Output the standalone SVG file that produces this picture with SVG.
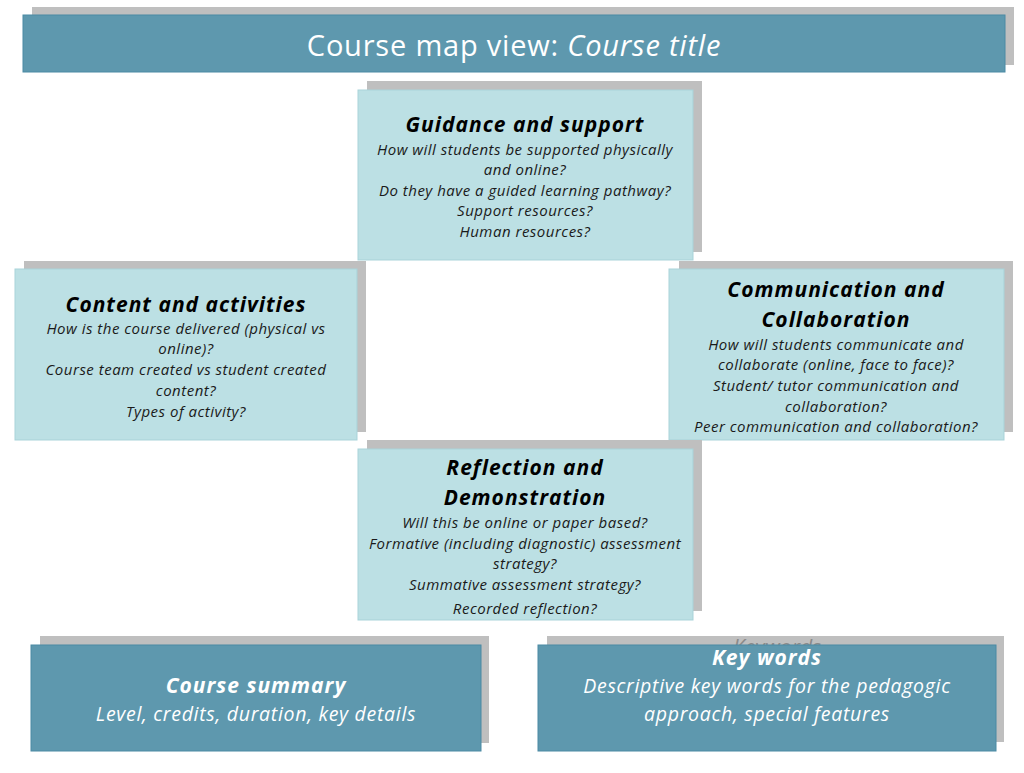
<svg xmlns="http://www.w3.org/2000/svg" width="1024" height="773" viewBox="0 0 1024 773">
<defs>
<style>
.shadow{fill:#bfbfbf}
.dark{fill:#5e98ae;stroke:#4b8aa4;stroke-width:1}
.light{fill:#bce0e4;stroke:#a9d3d9;stroke-width:1}
text{font-family:"Open Sans",Lato,"Liberation Sans",sans-serif;text-anchor:middle}
.t{font-size:21px;font-weight:bold;font-style:italic;fill:#000;letter-spacing:1px}
.b{font-size:15px;font-style:italic;fill:#1a1a1a;letter-spacing:0.5px}
.wt{font-size:21px;font-weight:bold;font-style:italic;fill:#fff;letter-spacing:1px}
.wb{font-size:19.5px;font-style:italic;fill:#fff;letter-spacing:0.7px}
</style>
<clipPath id="kwclip"><rect x="547" y="636" width="457" height="9"/></clipPath>
</defs>
<rect width="1024" height="773" fill="#fff"/>
<g id="title">
<rect class="shadow" x="32" y="7" width="982" height="58"/>
<rect class="dark" x="23" y="15" width="982" height="57"/>
<text x="514" y="56" style="font-size:29px;fill:#fff;letter-spacing:0.8px">Course map view: <tspan font-style="italic">Course title</tspan></text>
</g>
<g id="guidance">
<rect class="shadow" x="367" y="81" width="335" height="171"/>
<rect class="light" x="358" y="90" width="335" height="170"/>
<text class="t" x="525" y="132">Guidance and support</text>
<text class="b" x="525" y="155">How will students be supported physically</text>
<text class="b" x="525" y="175">and online?</text>
<text class="b" x="525" y="196">Do they have a guided learning pathway?</text>
<text class="b" x="525" y="216">Support resources?</text>
<text class="b" x="525" y="237">Human resources?</text>
</g>
<g id="content">
<rect class="shadow" x="24" y="261" width="342" height="171"/>
<rect class="light" x="15" y="269" width="342" height="171"/>
<text class="t" x="186" y="312">Content and activities</text>
<text class="b" x="186" y="334">How is the course delivered (physical vs</text>
<text class="b" x="186" y="354">online)?</text>
<text class="b" x="186" y="375">Course team created vs student created</text>
<text class="b" x="186" y="396">content?</text>
<text class="b" x="186" y="417">Types of activity?</text>
</g>
<g id="communication">
<rect class="shadow" x="679" y="261" width="334" height="171"/>
<rect class="light" x="669" y="269" width="335" height="171"/>
<text class="t" x="836" y="297">Communication and</text>
<text class="t" x="836" y="327">Collaboration</text>
<text class="b" x="836" y="350">How will students communicate and</text>
<text class="b" x="836" y="370">collaborate (online, face to face)?</text>
<text class="b" x="836" y="391">Student/ tutor communication and</text>
<text class="b" x="836" y="412">collaboration?</text>
<text class="b" x="836" y="432">Peer communication and collaboration?</text>
</g>
<g id="reflection">
<rect class="shadow" x="367" y="440" width="335" height="171"/>
<rect class="light" x="358" y="449" width="335" height="171"/>
<text class="t" x="525" y="475">Reflection and</text>
<text class="t" x="525" y="505">Demonstration</text>
<text class="b" x="525" y="528">Will this be online or paper based?</text>
<text class="b" x="525" y="549">Formative (including diagnostic) assessment</text>
<text class="b" x="525" y="569">strategy?</text>
<text class="b" x="525" y="590">Summative assessment strategy?</text>
<text class="b" x="525" y="614">Recorded reflection?</text>
</g>
<g id="summary">
<rect class="shadow" x="40" y="636" width="449" height="107"/>
<rect class="dark" x="31" y="645" width="450" height="106"/>
<text class="wt" x="256" y="693">Course summary</text>
<text class="wb" x="256" y="721">Level, credits, duration, key details</text>
</g>
<g id="keywords">
<rect class="shadow" x="547" y="636" width="457" height="106"/>
<text clip-path="url(#kwclip)" x="777" y="655" style="font-size:21px;font-style:italic;fill:#8a8a8a">Keywords</text>
<rect class="dark" x="538" y="645" width="458" height="106"/>
<text class="wt" x="767" y="665">Key words</text>
<text class="wb" x="767" y="693">Descriptive key words for the pedagogic</text>
<text class="wb" x="767" y="721">approach, special features</text>
</g>
<g id="connectors"></g>
</svg>
